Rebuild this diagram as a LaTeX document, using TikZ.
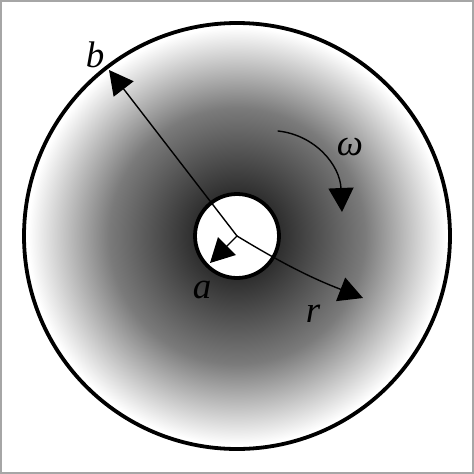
\documentclass[tikz,border=0pt]{standalone}
\usepackage{fontspec}
\setmainfont{Liberation Serif}
\usetikzlibrary{arrows.meta}

\pgfdeclareradialshading{diskshade}{\pgfpoint{0bp}{0bp}}{color(0bp)=(black!88); color(5bp)=(black!82); color(15bp)=(black!52); color(24.5bp)=(white); color(25bp)=(white); color(50bp)=(white)}

\begin{document}
\begin{tikzpicture}
	[x=1pt,y=-1pt,line cap=round,
	%Styles
	rim/.style={line width=3.8pt},
	radius line/.style={line width=1.4pt,-{Triangle[length=24pt,width=25pt]}},
	label text/.style={font=\fontsize{37}{40}\selectfont\itshape,inner sep=0pt,anchor=base}
	]
	
	%Colors
	\colorlet{framecolor}{gray!70}
	
	%The graphic
	\useasboundingbox (0,0) rectangle (474,474);
	\draw[framecolor,line width=2pt] (1,1) rectangle (473,473);
	
	\coordinate (O) at (237,236);
	\coordinate (b tip) at (109,70);
	\coordinate (r tip) at (363,298);
	\coordinate (a tip) at (210,263);
	\coordinate (w start) at (278,131);
	\coordinate (w tip) at (342,212);
	
	\shade[shading=diskshade] (O) circle[radius=213];
	\draw[rim] (O) circle[radius=213];
	\draw[rim,fill=white] (O) circle[radius=42];
	
	\draw[radius line] (O) -- (b tip);
	\draw[radius line] (O) to[bend right=5] (r tip);
	\draw[radius line] (O) -- (a tip);
	\draw[radius line] (w start) .. controls (315,135) and (340,165) .. (w tip);
	
	\node[label text] (b) at (95,67) {b};
	\node[label text] (omega) at (350,155) {ω};
	\node[label text] (a) at (202,298) {a};
	\node[label text] (r) at (313,322) {r};
\end{tikzpicture}
\end{document}
